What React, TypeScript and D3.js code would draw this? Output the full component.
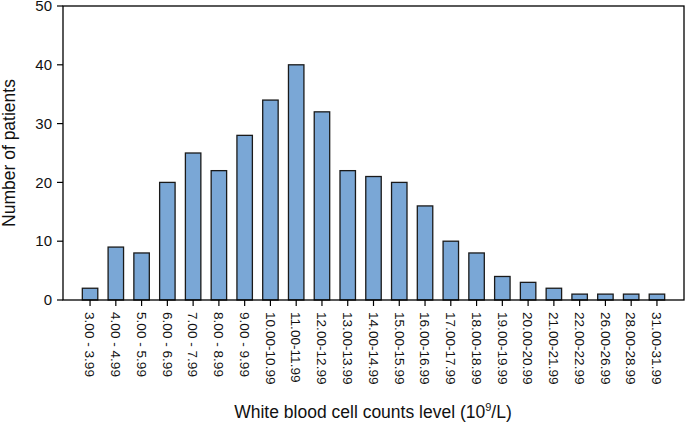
import * as d3 from "d3";

const categories = [
  "3.00 - 3.99", "4.00 - 4.99", "5.00 - 5.99", "6.00 - 6.99", "7.00 - 7.99",
  "8.00 - 8.99", "9.00 - 9.99", "10.00-10.99", "11.00-11.99", "12.00-12.99",
  "13.00-13.99", "14.00-14.99", "15.00-15.99", "16.00-16.99", "17.00-17.99",
  "18.00-18.99", "19.00-19.99", "20.00-20.99", "21.00-21.99", "22.00-22.99",
  "26.00-26.99", "28.00-28.99", "31.00-31.99",
];
const patients = [2, 9, 8, 20, 25, 22, 28, 34, 40, 32, 22, 21, 20, 16, 10, 8, 4, 3, 2, 1, 1, 1, 1];
const yTicks = [0, 10, 20, 30, 40, 50];

const width = 685;
const height = 424;
const left = 63;
const right = 684;
const top = 6;
const bottom = 300;
const font = "Arial, 'Liberation Sans', sans-serif";

export default function App() {
  const x = d3
    .scaleBand<string>()
    .domain(categories)
    .range([left, right])
    .paddingInner(0.4)
    .paddingOuter(0.75);
  const y = d3.scaleLinear().domain([0, 50]).range([bottom, top]);

  return (
    <svg
      width={width}
      height={height}
      viewBox={`0 0 ${width} ${height}`}
      style={{ position: "absolute", left: 0, top: 0, background: "#fff" }}
      fontFamily={font}
    >
      {/* Bars */}
      {categories.map((c, i) => (
        <rect
          key={c}
          x={x(c)}
          y={y(patients[i])}
          width={x.bandwidth()}
          height={y(0) - y(patients[i])}
          fill="#7aa7d6"
          stroke="#1a1a1a"
          strokeWidth={1.3}
        />
      ))}

      {/* Frame */}
      <rect
        x={left}
        y={top}
        width={right - left}
        height={bottom - top}
        fill="none"
        stroke="#000"
        strokeWidth={1.3}
      />

      {/* Y axis */}
      {yTicks.map((t) => (
        <g key={t}>
          <line x1={left - 6} x2={left} y1={y(t)} y2={y(t)} stroke="#000" strokeWidth={1.2} />
          <text x={left - 11} y={y(t)} dy="0.35em" textAnchor="end" fontSize={15} fill="#111">
            {t}
          </text>
        </g>
      ))}

      {/* X axis */}
      {categories.map((c) => {
        const cx = (x(c) ?? 0) + x.bandwidth() / 2;
        return (
          <g key={c}>
            <line x1={cx} x2={cx} y1={bottom} y2={bottom + 6} stroke="#000" strokeWidth={1.2} />
            <text
              transform={`translate(${cx},${bottom + 12}) rotate(90)`}
              dy="0.35em"
              textAnchor="start"
              fontSize={13.6}
              fill="#111"
            >
              {c}
            </text>
          </g>
        );
      })}

      {/* Axis titles */}
      <text
        transform={`translate(15,${(top + bottom) / 2}) rotate(-90)`}
        textAnchor="middle"
        fontSize={17.5}
        fill="#111"
      >
        Number of patients
      </text>
      <text x={373} y={418} textAnchor="middle" fontSize={17.5} fill="#111">
        White blood cell counts level (10
        <tspan fontSize={11} dy={-7}>9</tspan>
        <tspan dy={7}>/L)</tspan>
      </text>
    </svg>
  );
}
